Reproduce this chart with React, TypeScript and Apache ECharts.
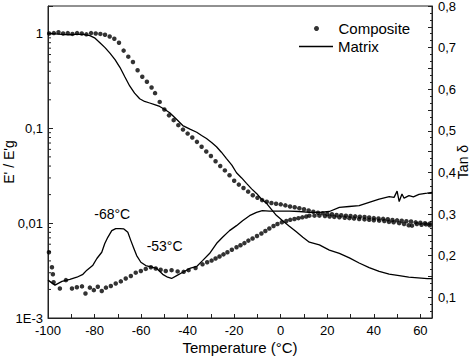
import React, { useEffect, useRef } from "react";
import * as echarts from "echarts";

// Composite, normalized modulus E'/E'g (left log axis)
const compModT = [-99.5,-97.5,-95.5,-93.5,-91.5,-89.5,-87.5,-85.5,-83.5,-81.5,-79.5,-77.5,-75.5,-73.5,-71.5,-69.5,-67.5,-65.5,-63.5,-61.5,-59.5,-57.5,-55.5,-54,-52,-50,-48,-46,-44,-42,-40,-38,-36,-34,-32,-30,-28,-26,-24,-22,-20,-18,-16,-14,-12,-10,-8,-6,-4,-2,0,2,4,6,8,10,12,14,16,18,20,22,24,26,28,30,32,34,36,38,40,42,44,46,48,50,52,54,56,58,60,62,64];
const compModV = [1.0,1.01,1.03,1.0,1.01,0.99,1.01,1.0,0.98,1.01,1.0,0.99,0.97,0.93,0.88,0.8,0.66,0.57,0.5,0.41,0.35,0.31,0.27,0.235,0.19,0.158,0.137,0.122,0.108,0.097,0.088,0.08,0.072,0.064,0.057,0.051,0.045,0.04,0.036,0.032,0.028,0.0255,0.0235,0.0215,0.0197,0.0185,0.0175,0.0168,0.0163,0.016,0.0158,0.0154,0.015,0.0147,0.0144,0.014,0.0136,0.0132,0.0129,0.0127,0.0125,0.0124,0.0122,0.0121,0.012,0.0119,0.0118,0.0117,0.0116,0.0115,0.0113,0.0112,0.0111,0.011,0.0108,0.0107,0.0106,0.0105,0.0104,0.0102,0.0101,0.01,0.0099];

// Matrix, normalized modulus (left log axis)
const matModT = [-100,-97,-94,-91,-88,-85,-82,-80,-77.7,-75.5,-73.4,-71.2,-69.1,-67,-64.9,-62.8,-60.6,-58.5,-56.3,-54.2,-52,-49.8,-47.7,-45,-42.1,-39,-36.1,-34,-31.9,-29.7,-27.6,-25.5,-23.3,-21,-19,-16.8,-14.7,-12.5,-10.4,-8.3,-6.1,-4,-1.9,0.7,3.7,6.7,9.5,12.3,16.6,20.9,25.2,29.5,33.7,38,42.3,46.6,50.9,55,59,63,65];
const matModV = [1.0,0.99,0.98,0.97,0.98,0.98,0.95,0.9,0.8,0.71,0.62,0.53,0.44,0.35,0.28,0.235,0.205,0.192,0.185,0.178,0.17,0.158,0.146,0.126,0.107,0.098,0.091,0.084,0.078,0.071,0.064,0.056,0.048,0.041,0.034,0.03,0.0263,0.023,0.0206,0.018,0.0162,0.014,0.0121,0.0107,0.0093,0.0081,0.0071,0.0063,0.0059,0.0052,0.0048,0.0043,0.0038,0.0034,0.0031,0.0029,0.0028,0.0027,0.00265,0.0026,0.0026];

// Composite, tan delta (right axis)
const compTanT = [-99.6,-98.3,-97.9,-97.6,-94.9,-92.3,-89.7,-87.6,-85.4,-83.9,-82,-80.3,-78.6,-76.9,-75.1,-73,-70.9,-68.7,-66.6,-64.4,-62.3,-60.1,-58,-55.8,-53.7,-51.6,-49.4,-46.9,-44.3,-41.7,-39.6,-36.6,-33.6,-31.6,-29.7,-28,-26.3,-24.6,-22.9,-21,-19,-17.3,-15.6,-13.9,-12.1,-10.2,-8.3,-6.6,-4.9,-3.1,-1.4,0.5,2.4,4.1,5.9,7.6,9.3,11,12.3,14.5,16.6,19,21,23,25.2,27.5,29.5,31.5,33.7,36,38,40,42.3,44.5,46.5,48.5,50.9,53,55,56.4,58.5,60.5,62.4,64];
const compTanV = [0.208,0.172,0.155,0.136,0.121,0.141,0.121,0.124,0.126,0.109,0.123,0.117,0.125,0.115,0.123,0.127,0.133,0.138,0.145,0.151,0.159,0.163,0.168,0.172,0.169,0.166,0.163,0.165,0.162,0.161,0.165,0.17,0.179,0.184,0.188,0.193,0.198,0.203,0.208,0.214,0.22,0.225,0.23,0.236,0.241,0.247,0.253,0.259,0.265,0.271,0.276,0.28,0.283,0.286,0.288,0.29,0.292,0.294,0.296,0.296,0.296,0.295,0.294,0.293,0.292,0.291,0.29,0.289,0.288,0.287,0.286,0.285,0.284,0.283,0.281,0.28,0.278,0.276,0.273,0.272,0.276,0.274,0.275,0.273];

// Matrix, tan delta (right axis)
const matTanT = [-100,-97,-94,-90.6,-87.6,-85,-83.3,-80.7,-79,-76.9,-75.6,-74.3,-72.6,-70.9,-69.1,-67.4,-65.7,-64.4,-63.1,-61.9,-60.1,-58,-55.8,-53.3,-50.7,-48.6,-46.9,-44.7,-42.1,-39.1,-36.1,-33.6,-30.6,-27.6,-25,-22,-19,-16.4,-13.4,-10.4,-7.9,-4.9,-0.6,3.7,8,12.3,16.6,20.9,25.2,29.4,33.7,38,42.3,46.6,48.7,50,50.9,52.1,53,55.1,57,59.4,62.9,65];
const matTanV = [0.141,0.129,0.138,0.143,0.148,0.155,0.165,0.177,0.193,0.208,0.229,0.244,0.26,0.265,0.265,0.264,0.256,0.236,0.217,0.2,0.184,0.176,0.173,0.169,0.155,0.148,0.145,0.152,0.16,0.169,0.174,0.188,0.205,0.229,0.244,0.26,0.272,0.284,0.296,0.304,0.308,0.307,0.307,0.307,0.306,0.304,0.304,0.306,0.316,0.318,0.32,0.328,0.336,0.342,0.34,0.355,0.33,0.348,0.338,0.344,0.341,0.347,0.35,0.352];

// Annotations (peak temperatures)
const peakLabels = ["-68°C", "-53°C"];
const peakLabelT = [-72.4, -49.9];
const peakLabelTan = [0.301, 0.224];

// Tick labels
const logTickLabels: Record<string, string> = { "0.001": "1E-3", "0.01": "0,01", "0.1": "0,1", "1": "1" };

const FONT = '"Liberation Sans", Arial, sans-serif';

export default function App() {
  const ref = useRef<HTMLDivElement>(null);
  useEffect(() => {
    document.body.style.margin = "0";
    if (!ref.current) return;
    const chart = echarts.init(ref.current, undefined, { renderer: "svg" });

    const minorLog: number[][] = [];
    [-3, -2, -1, 0].forEach((n) => {
      for (let k = 2; k <= 9; k++) {
        const v = k * Math.pow(10, n);
        if (v < 1.95) minorLog.push([-100, v]);
      }
    });

    const black = "#000";
    const legendText = { fontSize: 15, color: black, fontFamily: FONT };
    chart.setOption({
      animation: false,
      textStyle: { fontFamily: FONT, color: black },
      grid: {
        left: 48,
        right: 42,
        top: 6,
        bottom: 38,
        containLabel: false,
        outerBoundsMode: "none",
        show: true,
        borderColor: "#222",
        borderWidth: 1,
      },
      legend: [
        {
          orient: "vertical",
          left: 309,
          top: 16,
          itemWidth: 34,
          itemHeight: 5,
          textStyle: legendText,
          data: [{ name: "Composite", icon: "circle" }],
        },
        {
          orient: "vertical",
          left: 294,
          top: 34,
          itemWidth: 34,
          itemHeight: 1.4,
          textStyle: legendText,
          data: [{ name: "Matrix", icon: "rect" }],
        },
      ],
      xAxis: {
        type: "value",
        min: -100,
        max: 65,
        interval: 10,
        name: "Temperature (°C)",
        nameLocation: "middle",
        nameGap: 22,
        nameMoveOverlap: false,
        nameTextStyle: { fontSize: 15, color: black, fontFamily: FONT },
        axisLine: { onZero: false, lineStyle: { color: "#222", width: 1 } },
        axisTick: { inside: true, length: 4, lineStyle: { color: "#222" } },
        axisLabel: {
          fontSize: 13,
          color: black,
          margin: 6,
          formatter: (v: number) => (v % 20 === 0 && v <= 60 ? String(v) : ""),
        },
        splitLine: { show: false },
      },
      yAxis: [
        {
          type: "log",
          logBase: 10,
          min: 0.001,
          max: 1.95,
          name: "E' / E'g",
          nameLocation: "middle",
          nameGap: 32,
          nameMoveOverlap: false,
          nameRotate: 90,
          nameTextStyle: { fontSize: 14, color: black, fontFamily: FONT },
          axisLine: { show: true, onZero: false, lineStyle: { color: "#222", width: 1 } },
          axisTick: { inside: true, length: 5, lineStyle: { color: "#222" } },
          axisLabel: {
            fontSize: 13,
            color: black,
            margin: 5,
            formatter: (v: number) => {
              const key = String(Number(v.toPrecision(6)));
              return logTickLabels[key] ?? "";
            },
          },
          splitLine: { show: false },
        },
        {
          type: "value",
          position: "right",
          min: 0.05,
          max: 0.8,
          interval: 0.05,
          name: "Tan δ",
          nameLocation: "middle",
          nameGap: 24,
          nameMoveOverlap: false,
          nameRotate: 90,
          nameTextStyle: { fontSize: 14, color: black, fontFamily: FONT },
          axisLine: { show: true, onZero: false, lineStyle: { color: "#222", width: 1 } },
          axisTick: { inside: true, length: 4, lineStyle: { color: "#222" } },
          minorTick: { show: true, splitNumber: 3, length: 2, lineStyle: { color: "#222" } },
          axisLabel: {
            fontSize: 13,
            color: black,
            margin: 6,
            formatter: (v: number) => {
              const r = Math.round(v * 10);
              if (Math.abs(v * 10 - r) > 1e-6 || r < 1) return "";
              return (r / 10).toFixed(1).replace(".", ",");
            },
          },
          splitLine: { show: false },
        },
      ],
      series: [
        {
          name: "Composite",
          type: "scatter",
          xAxisIndex: 0,
          yAxisIndex: 0,
          symbol: "circle",
          symbolSize: 4.5,
          itemStyle: { color: black },
          data: compModT.map((t, i) => [t, compModV[i]]),
        },
        {
          name: "Matrix",
          type: "line",
          xAxisIndex: 0,
          yAxisIndex: 0,
          symbol: "none",
          lineStyle: { color: black, width: 1.3 },
          itemStyle: { color: black },
          data: matModT.map((t, i) => [t, matModV[i]]),
        },
        {
          name: "Composite",
          type: "scatter",
          xAxisIndex: 0,
          yAxisIndex: 1,
          symbol: "circle",
          symbolSize: 4.5,
          itemStyle: { color: black },
          data: compTanT.map((t, i) => [t, compTanV[i]]),
          markPoint: {
            symbol: "circle",
            symbolSize: 1,
            itemStyle: { color: "rgba(0,0,0,0)" },
            label: {
              show: true,
              position: "inside",
              color: black,
              fontSize: 14,
              fontFamily: FONT,
              formatter: (p: any) => p.name,
            },
            data: peakLabels.map((name, i) => ({ name, coord: [peakLabelT[i], peakLabelTan[i]] })),
          },
        },
        {
          name: "Matrix",
          type: "line",
          xAxisIndex: 0,
          yAxisIndex: 1,
          symbol: "none",
          lineStyle: { color: black, width: 1.3 },
          itemStyle: { color: black },
          data: matTanT.map((t, i) => [t, matTanV[i]]),
        },
        {
          type: "custom",
          xAxisIndex: 0,
          yAxisIndex: 0,
          silent: true,
          clip: false,
          data: minorLog,
          renderItem: (_params: any, api: any) => {
            const p = api.coord([api.value(0), api.value(1)]);
            return {
              type: "line",
              shape: { x1: p[0], y1: p[1], x2: p[0] + 3, y2: p[1] },
              style: { stroke: "#222", lineWidth: 1 },
            };
          },
        },
      ],
    });
    return () => chart.dispose();
  }, []);
  return <div ref={ref} style={{ width: 474, height: 356 }} />;
}
